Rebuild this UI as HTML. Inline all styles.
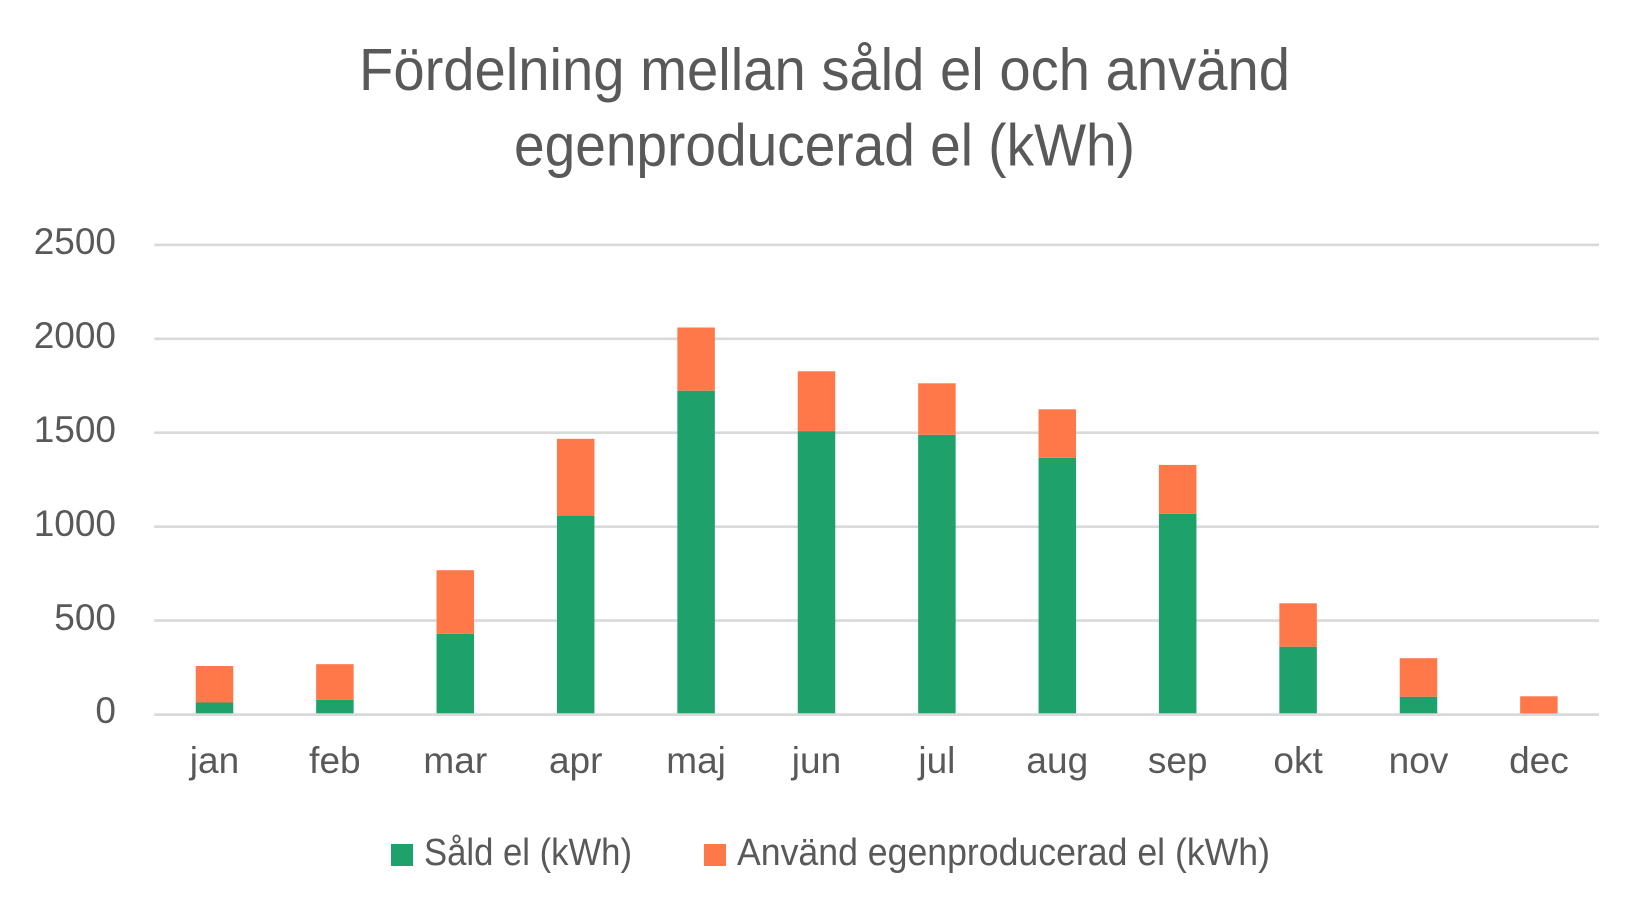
<!DOCTYPE html>
<html>
<head>
<meta charset="utf-8">
<style>
  html, body { margin: 0; padding: 0; background: #ffffff; }
  svg { display: block; }
  text { font-family: "Liberation Sans", "DejaVu Sans", sans-serif; fill: #595959; }
</style>
</head>
<body>
<svg width="1650" height="921" viewBox="0 0 1650 921" xmlns="http://www.w3.org/2000/svg">
  <rect x="0" y="0" width="1650" height="921" fill="#ffffff"/>

  <!-- Title -->
  <text x="824.5" y="90" font-size="59" text-anchor="middle" textLength="931" lengthAdjust="spacingAndGlyphs">Fördelning mellan såld el och använd</text>
  <text x="824.5" y="165.7" font-size="59" text-anchor="middle" textLength="621" lengthAdjust="spacingAndGlyphs">egenproducerad el (kWh)</text>

  <!-- Gridlines -->
  <g stroke="#d9d9d9" stroke-width="2.6">
    <line x1="154.3" y1="244.9" x2="1599" y2="244.9"/>
    <line x1="154.3" y1="338.8" x2="1599" y2="338.8"/>
    <line x1="154.3" y1="432.7" x2="1599" y2="432.7"/>
    <line x1="154.3" y1="526.7" x2="1599" y2="526.7"/>
    <line x1="154.3" y1="620.6" x2="1599" y2="620.6"/>
  </g>

  <!-- Y axis labels -->
  <g font-size="37" text-anchor="end">
    <text x="116" y="254">2500</text>
    <text x="116" y="348">2000</text>
    <text x="116" y="442">1500</text>
    <text x="116" y="536">1000</text>
    <text x="116" y="630">500</text>
    <text x="116" y="723">0</text>
  </g>

  <!-- Bars: green (Såld el) -->
  <g fill="#1ea16a">
    <rect x="195.75"  y="702.5" width="37.5" height="12.0"/>
    <rect x="316.15"  y="699.9" width="37.5" height="14.6"/>
    <rect x="436.55"  y="633.9" width="37.5" height="80.6"/>
    <rect x="556.95"  y="515.6" width="37.5" height="198.9"/>
    <rect x="677.35"  y="390.7" width="37.5" height="323.8"/>
    <rect x="797.75"  y="431.1" width="37.5" height="283.4"/>
    <rect x="918.15"  y="434.8" width="37.5" height="279.7"/>
    <rect x="1038.55" y="457.9" width="37.5" height="256.6"/>
    <rect x="1158.95" y="513.7" width="37.5" height="200.8"/>
    <rect x="1279.35" y="646.7" width="37.5" height="67.8"/>
    <rect x="1399.75" y="696.7" width="37.5" height="17.8"/>
    <rect x="1520.15" y="713.0" width="37.5" height="1.5"/>
  </g>

  <!-- Bars: orange (Använd egenproducerad el) -->
  <g fill="#ff7849">
    <rect x="195.75"  y="666.0" width="37.5" height="36.5"/>
    <rect x="316.15"  y="664.2" width="37.5" height="35.7"/>
    <rect x="436.55"  y="570.2" width="37.5" height="63.7"/>
    <rect x="556.95"  y="438.8" width="37.5" height="76.8"/>
    <rect x="677.35"  y="327.5" width="37.5" height="63.2"/>
    <rect x="797.75"  y="371.3" width="37.5" height="59.8"/>
    <rect x="918.15"  y="383.3" width="37.5" height="51.5"/>
    <rect x="1038.55" y="409.3" width="37.5" height="48.6"/>
    <rect x="1158.95" y="464.9" width="37.5" height="48.8"/>
    <rect x="1279.35" y="603.3" width="37.5" height="43.4"/>
    <rect x="1399.75" y="658.2" width="37.5" height="38.5"/>
    <rect x="1520.15" y="696.3" width="37.5" height="16.7"/>
  </g>

  <!-- Zero axis line -->
  <line x1="154.3" y1="714.6" x2="1599" y2="714.6" stroke="#d9d9d9" stroke-width="2.8"/>

  <!-- Month labels -->
  <g font-size="37" text-anchor="middle">
    <text x="214.5"  y="773">jan</text>
    <text x="334.9"  y="773">feb</text>
    <text x="455.3"  y="773">mar</text>
    <text x="575.7"  y="773">apr</text>
    <text x="696.1"  y="773">maj</text>
    <text x="816.5"  y="773">jun</text>
    <text x="936.9"  y="773">jul</text>
    <text x="1057.3" y="773">aug</text>
    <text x="1177.7" y="773">sep</text>
    <text x="1298.1" y="773">okt</text>
    <text x="1418.5" y="773">nov</text>
    <text x="1538.9" y="773">dec</text>
  </g>

  <!-- Legend -->
  <rect x="391" y="844" width="22" height="22" fill="#1ea16a"/>
  <text x="424" y="865" font-size="38" textLength="208" lengthAdjust="spacingAndGlyphs">Såld el (kWh)</text>
  <rect x="704" y="844" width="22" height="22" fill="#ff7849"/>
  <text x="737" y="865" font-size="38" textLength="533" lengthAdjust="spacingAndGlyphs">Använd egenproducerad el (kWh)</text>
</svg>
</body>
</html>
